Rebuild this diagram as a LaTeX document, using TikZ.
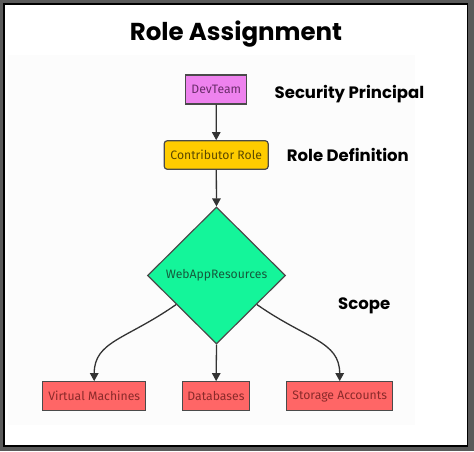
\documentclass[tikz,border=0pt]{standalone}
\usepackage{fontspec}
\setmainfont{Fira Sans}
\newfontfamily\labelfont{Poppins}
\usetikzlibrary{shapes.geometric,arrows.meta,calc}
\definecolor{frame}{HTML}{5A5A5A}
\definecolor{panel}{HTML}{FCFCFC}
\definecolor{edge}{HTML}{333333}
\definecolor{stroke}{HTML}{4A4A4A}
\definecolor{violetfill}{HTML}{EE82EE}
\definecolor{violettext}{HTML}{6A2C6A}
\definecolor{goldfill}{HTML}{FFCC00}
\definecolor{goldtext}{HTML}{5A4800}
\definecolor{greenfill}{HTML}{14F59A}
\definecolor{greentext}{HTML}{145A3C}
\definecolor{redfill}{HTML}{FF6666}
\definecolor{redtext}{HTML}{8A2A2A}
\tikzset{
  x=1pt,y=-1pt,
  nodefont/.style={font=\fontsize{12.2}{14}\selectfont},
  box/.style={draw=stroke, line width=1.2pt, minimum height=29pt, inner sep=0pt, nodefont},
  lbl/.style={font=\labelfont\bfseries\fontsize{16.5}{18}\selectfont, anchor=base west, inner sep=0pt},
  conn/.style={draw=edge, line width=1.3pt, -{Triangle[length=8pt,width=8.5pt]}},
}
\begin{document}
\begin{tikzpicture}
\useasboundingbox (0,0) rectangle (474,451);
\fill[frame] (0,0) rectangle (474,451);
\filldraw[fill=white, draw=black, line width=1.5pt] (4,4) rectangle (467.5,446);
\fill[panel] (8,55) rectangle (415,425);

\node[font=\labelfont\bfseries\fontsize{24.5}{28}\selectfont, anchor=base, inner sep=0pt] (title) at (236,40.5) {Role Assignment};

\node[box, fill=violetfill, text=violettext, minimum width=61pt] (dev) at (216.3,89.5) {DevTeam};
\node[box, fill=goldfill, text=goldtext, minimum width=104pt, minimum height=28.5pt, rounded corners=3pt] (contrib) at (216.2,155) {Contributor Role};
\node[diamond, draw=stroke, line width=1.2pt, fill=greenfill, text=greentext, minimum width=138pt, minimum height=137pt, inner sep=0pt, nodefont] (scope) at (216.5,275.5) {WebAppResources};

\node[box, fill=redfill, text=redtext, minimum width=103pt] (vm) at (94.2,396.2) {Virtual Machines};
\node[box, fill=redfill, text=redtext, minimum width=67pt] (db) at (216,396.2) {Databases};
\node[box, fill=redfill, text=redtext, minimum width=106pt] (sa) at (339.7,396.2) {Storage Accounts};

\node[lbl] (lsp) at (274.5,98.7) {Security Principal};
\node[lbl] (lrd) at (286.7,161) {Role Definition};
\node[lbl] (lsc) at (338,309.5) {Scope};

\coordinate (sl) at ($(scope.west)!0.42!(scope.south)$);
\coordinate (sr) at ($(scope.east)!0.42!(scope.south)$);

\draw[conn] (dev) -- (contrib);
\draw[conn] (contrib) -- (scope.north);
\draw[conn] (scope.south) -- (db);
\draw[conn] (sl) .. controls +(-50,35) and +(0,-40) .. (vm.north);
\draw[conn] (sr) .. controls +(50,35) and +(0,-40) .. (sa.north);
\end{tikzpicture}
\end{document}
